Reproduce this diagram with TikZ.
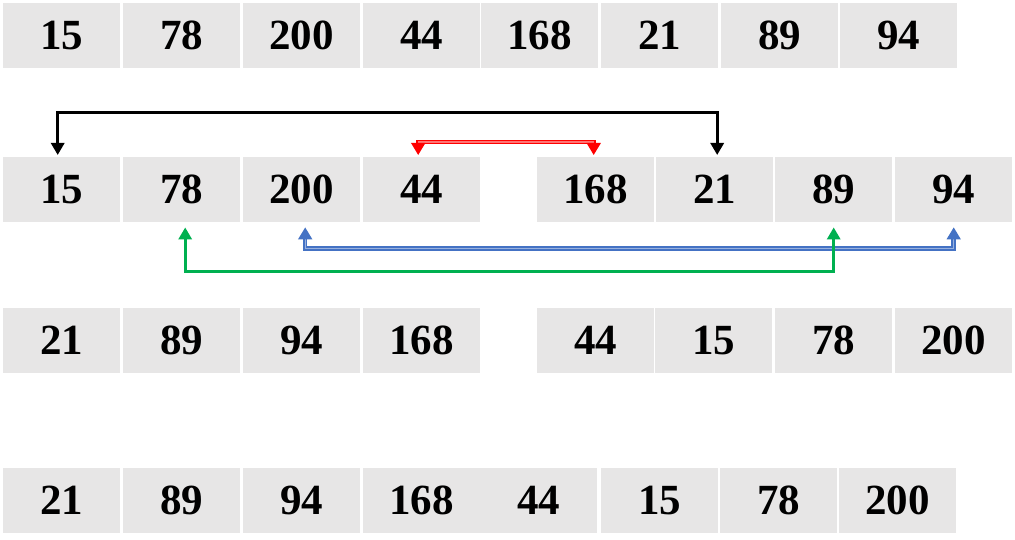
\documentclass[tikz,border=0pt]{standalone}
\usepackage{fontspec}
\setmainfont{Liberation Serif}
\usetikzlibrary{arrows.meta}
\definecolor{cellgray}{HTML}{E7E6E6}
\definecolor{offgreen}{HTML}{00B050}
\definecolor{offblue}{HTML}{4472C4}
\tikzset{
  cell/.style={anchor=north west, fill=cellgray, draw=none, inner sep=0pt,
    minimum width=117pt, minimum height=65pt,
    font=\fontsize{43}{43}\selectfont\bfseries},
  blkarrow/.style={draw=black, line width=3pt, {Triangle[width=13pt,length=12pt]}-{Triangle[width=13pt,length=12pt]}, shorten <=2pt, shorten >=2pt},
  redarrow/.style={draw=red, line width=1.6pt, double=red!55, double distance=1.3pt,
    {Triangle[width=14pt,length=12pt,fill=red]}-{Triangle[width=14pt,length=12pt,fill=red]}, shorten <=2pt, shorten >=2pt},
  bluearrow/.style={draw=offblue, line width=1.6pt, double=offblue!55, double distance=1.3pt,
    {Triangle[width=14pt,length=12pt,fill=offblue]}-{Triangle[width=14pt,length=12pt,fill=offblue]}, shorten <=5pt, shorten >=5pt},
  greenarrow/.style={draw=offgreen, line width=3pt,
    {Triangle[width=13pt,length=12pt]}-{Triangle[width=13pt,length=12pt]}, shorten <=5pt, shorten >=5pt},
}
\begin{document}
\begin{tikzpicture}[x=1pt,y=-1pt]
\useasboundingbox[fill=white] (0,0) rectangle (1015,540);
% row 1
\node[cell] (r1c1) at (3,3) {15};
\node[cell] (r1c2) at (123,3) {78};
\node[cell] (r1c3) at (243,3) {200};
\node[cell] (r1c4) at (363,3) {44};
\node[cell] (r1c5) at (481,3) {168};
\node[cell] (r1c6) at (601,3) {21};
\node[cell] (r1c7) at (721,3) {89};
\node[cell] (r1c8) at (840,3) {94};
% row 2
\node[cell] (r2c1) at (3,157) {15};
\node[cell] (r2c2) at (123,157) {78};
\node[cell] (r2c3) at (243,157) {200};
\node[cell] (r2c4) at (363,157) {44};
\node[cell] (r2c5) at (537,157) {168};
\node[cell] (r2c6) at (656,157) {21};
\node[cell] (r2c7) at (775,157) {89};
\node[cell] (r2c8) at (895,157) {94};
% row 3
\node[cell] (r3c1) at (3,308) {21};
\node[cell] (r3c2) at (123,308) {89};
\node[cell] (r3c3) at (243,308) {94};
\node[cell] (r3c4) at (363,308) {168};
\node[cell] (r3c5) at (537,308) {44};
\node[cell] (r3c6) at (655,308) {15};
\node[cell] (r3c7) at (775,308) {78};
\node[cell] (r3c8) at (895,308) {200};
% row 4
\node[cell] (r4c1) at (3,468) {21};
\node[cell] (r4c2) at (123,468) {89};
\node[cell] (r4c3) at (243,468) {94};
\node[cell] (r4c4) at (363,468) {168};
\node[cell] (r4c5) at (480,468) {44};
\node[cell] (r4c6) at (601,468) {15};
\node[cell] (r4c7) at (720,468) {78};
\node[cell] (r4c8) at (839,468) {200};
% connectors
\draw[blkarrow] ([xshift=-4pt]r2c1.north) -- ++(0,-44) -| ([xshift=2.5pt]r2c6.north);
\draw[redarrow] ([xshift=-3.5pt]r2c4.north) -- ++(0,-15) -| ([xshift=-2pt]r2c5.north);
\draw[bluearrow] ([xshift=3.5pt]r2c3.south) -- ++(0,26) -| (r2c8.south);
\draw[greenarrow] ([xshift=3.5pt]r2c2.south) -- ++(0,49) -| (r2c7.south);
\end{tikzpicture}
\end{document}
